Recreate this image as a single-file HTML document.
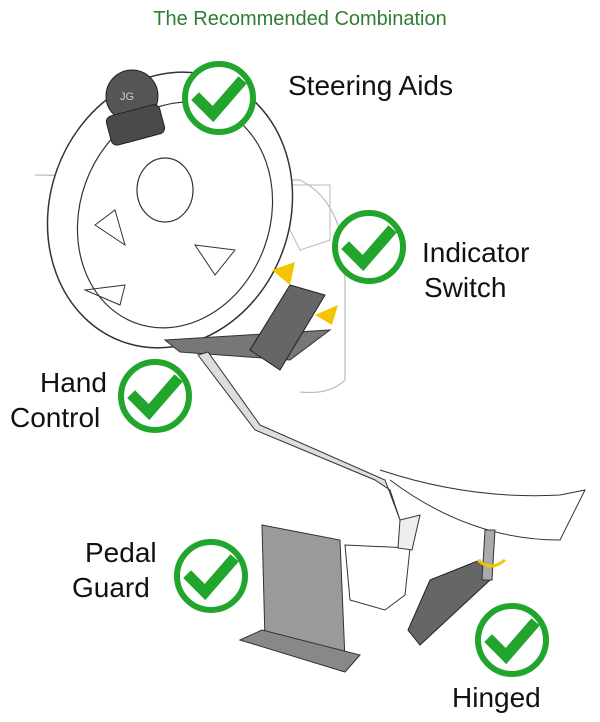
<!DOCTYPE html>
<html><head><style>
body{margin:0;background:#fff;width:600px;height:717px;overflow:hidden;font-family:"Liberation Sans",sans-serif}
</style></head><body>
<svg width="600" height="717" viewBox="0 0 600 717">
<defs>
<g id="ck">
<circle r="34" fill="#fff" stroke="#22a52c" stroke-width="6"/>
<path d="M-20,2 L-6,16 L20,-14" fill="none" stroke="#22a52c" stroke-width="11" stroke-linecap="square"/>
</g>
</defs>
<text x="300" y="25" text-anchor="middle" font-size="20" fill="#2e7d32">The Recommended Combination</text>
<!-- dashboard lines -->
<path d="M35,175 L300,180 M300,180 Q340,200 345,260 L345,380 Q330,395 300,392" fill="none" stroke="#bbb" stroke-width="1.2"/>
<path d="M285,185 L330,185 L330,240 L300,250 L290,230 Z" fill="none" stroke="#bbb"/>
<!-- steering wheel -->
<ellipse cx="170" cy="210" rx="120" ry="140" transform="rotate(20 170 210)" fill="#fff" stroke="#333" stroke-width="1.5"/>
<ellipse cx="175" cy="215" rx="95" ry="115" transform="rotate(20 175 215)" fill="none" stroke="#333" stroke-width="1.2"/>
<ellipse cx="165" cy="190" rx="28" ry="32" fill="none" stroke="#333" stroke-width="1.2"/>
<path d="M95,225 L115,210 L125,245 Z M195,245 L235,250 L215,275 Z M85,290 L125,285 L120,305 Z" fill="none" stroke="#333"/>
<!-- knob -->
<circle cx="132" cy="96" r="26" fill="#555" stroke="#222"/>
<rect x="108" y="110" width="55" height="30" rx="6" fill="#4a4a4a" stroke="#222" transform="rotate(-15 135 125)"/>
<text x="120" y="100" font-size="11" fill="#ccc">JG</text>
<!-- column / hand control -->
<path d="M165,340 L330,330 L290,360 L180,352 Z" fill="#777" stroke="#333"/>
<path d="M250,350 L290,285 L325,295 L280,370 Z" fill="#666" stroke="#222"/>
<path d="M198,355 L255,430 L375,480 L390,490 L400,520 L385,480 L260,425 L208,352 Z" fill="#ddd" stroke="#333"/>
<path d="M380,470 Q470,500 560,495 L585,490 L560,540 Q470,540 390,480" fill="#fff" stroke="#333"/>
<polygon points="272,270 295,262 290,285" fill="#f5c400"/>
<polygon points="315,315 338,305 332,325" fill="#f5c400"/>
<!-- pedal guard -->
<path d="M262,525 L340,540 L345,660 L265,640 Z" fill="#9a9a9a" stroke="#333"/>
<path d="M240,640 L262,630 L360,655 L345,672 Z" fill="#888" stroke="#333"/>
<!-- brake pedal -->
<path d="M345,545 L410,548 L405,595 L385,610 L350,600 Z" fill="#fff" stroke="#333"/>
<path d="M400,520 L420,515 L412,550 L398,548 Z" fill="#eee" stroke="#333"/>
<!-- accelerator -->
<path d="M430,580 L480,560 L490,580 L420,645 L408,630 Z" fill="#666" stroke="#222"/>
<path d="M485,530 L495,530 L492,580 L482,580 Z" fill="#aaa" stroke="#333"/>
<path d="M478,560 Q490,572 505,560" fill="none" stroke="#f5c400" stroke-width="3"/>
<use href="#ck" x="219" y="98"/>
<use href="#ck" x="369" y="247"/>
<use href="#ck" x="155" y="396"/>
<use href="#ck" x="211" y="576"/>
<use href="#ck" x="512" y="640"/>
<g font-size="28" fill="#111">
<text x="288" y="95">Steering Aids</text>
<text x="422" y="262">Indicator</text>
<text x="424" y="297">Switch</text>
<text x="40" y="392">Hand</text>
<text x="10" y="427">Control</text>
<text x="85" y="562">Pedal</text>
<text x="72" y="597">Guard</text>
<text x="452" y="707">Hinged</text>
</g>
</svg>
</body></html>
